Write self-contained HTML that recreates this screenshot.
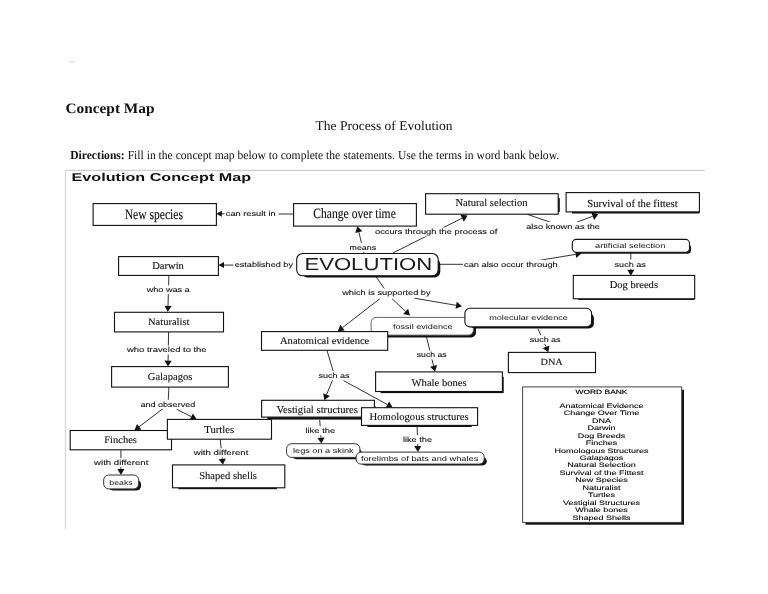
<!DOCTYPE html>
<html><head><meta charset="utf-8"><style>
html,body{margin:0;padding:0;background:#fff;width:768px;height:594px;overflow:hidden}
svg{display:block;text-rendering:geometricPrecision;will-change:transform}
</style></head><body>
<svg width="768" height="594" viewBox="0 0 768 594">
<rect x="69.5" y="61" width="5" height="1.2" fill="#ddd"/>
<text x="65.5" y="112.8" font-family="Liberation Serif" font-size="14.5" font-weight="bold" fill="#111" textLength="89.0" lengthAdjust="spacingAndGlyphs">Concept Map</text>
<text x="315.5" y="129.6" font-family="Liberation Serif" font-size="13.3" font-weight="normal" fill="#111" textLength="137.0" lengthAdjust="spacingAndGlyphs">The Process of Evolution</text>
<text x="70.2" y="158.6" font-family="Liberation Serif" font-size="12.2" fill="#111" textLength="489" lengthAdjust="spacingAndGlyphs"><tspan font-weight="bold">Directions:</tspan> Fill in the concept map below to complete the statements. Use the terms in word bank below.</text>
<rect x="65" y="169.8" width="640" height="1.2" fill="#cdcdcd"/>
<rect x="64.8" y="169.8" width="1.2" height="359" fill="#d8d8d8"/>
<rect x="70" y="174" width="0.8" height="354" fill="#f6f6f6"/>
<rect x="70" y="174" width="634" height="0.8" fill="#f7f7f7"/>
<text x="71.5" y="181.2" font-family="Liberation Sans" font-size="11.4" font-weight="bold" fill="#111" textLength="179.7" lengthAdjust="spacingAndGlyphs">Evolution Concept Map</text>
<line x1="220.0" y1="213.9" x2="224.5" y2="213.9" stroke="#333" stroke-width="1.0"/>
<line x1="278.6" y1="214.0" x2="293.5" y2="214.0" stroke="#333" stroke-width="1.0"/>
<polygon points="216.3,213.8 221.8,210.8 221.8,216.8" fill="#111"/>
<line x1="222.0" y1="265.1" x2="233.5" y2="265.1" stroke="#333" stroke-width="1.0"/>
<polygon points="218.5,265.1 224.0,262.1 224.0,268.1" fill="#111"/>
<line x1="364.0" y1="253.0" x2="358.8" y2="232.1" stroke="#333" stroke-width="1.0"/>
<polygon points="357.3,226.3 362.3,231.2 355.3,233.0" fill="#111"/>
<line x1="392.9" y1="253.0" x2="462.1" y2="218.2" stroke="#333" stroke-width="1.0"/>
<polygon points="467.5,215.5 463.9,221.8 460.3,214.6" fill="#111"/>
<line x1="440.0" y1="264.3" x2="463.0" y2="264.3" stroke="#333" stroke-width="1.0"/>
<line x1="539.0" y1="260.4" x2="575.6" y2="254.4" stroke="#333" stroke-width="1.0"/>
<polygon points="581.5,253.4 576.2,257.9 575.0,250.8" fill="#111"/>
<line x1="527.0" y1="214.2" x2="551.0" y2="222.5" stroke="#333" stroke-width="1.0"/>
<line x1="576.5" y1="222.3" x2="592.7" y2="216.3" stroke="#333" stroke-width="1.0"/>
<polygon points="598.3,214.2 594.1,220.0 591.3,212.5" fill="#111"/>
<line x1="630.8" y1="252.4" x2="630.8" y2="269.8" stroke="#333" stroke-width="1.0"/>
<polygon points="630.8,275.8 627.2,269.8 634.4,269.8" fill="#111"/>
<line x1="168.9" y1="275.5" x2="168.0" y2="305.8" stroke="#333" stroke-width="1.0"/>
<polygon points="167.8,311.8 164.4,305.7 171.6,305.9" fill="#111"/>
<line x1="168.6" y1="332.0" x2="168.1" y2="360.6" stroke="#333" stroke-width="1.0"/>
<polygon points="168.0,366.6 164.5,360.5 171.7,360.7" fill="#111"/>
<line x1="375.5" y1="276.0" x2="385.0" y2="289.5" stroke="#333" stroke-width="1.0"/>
<line x1="379.8" y1="298.8" x2="342.6" y2="327.5" stroke="#333" stroke-width="1.0"/>
<polygon points="337.8,331.2 340.4,324.7 344.7,330.4" fill="#111"/>
<line x1="392.1" y1="298.8" x2="405.6" y2="311.4" stroke="#333" stroke-width="1.0"/>
<polygon points="410.0,315.5 403.2,314.0 408.1,308.8" fill="#111"/>
<line x1="414.4" y1="298.2" x2="456.1" y2="305.3" stroke="#333" stroke-width="1.0"/>
<polygon points="462.0,306.3 455.5,308.8 456.7,301.7" fill="#111"/>
<line x1="538.0" y1="328.9" x2="546.0" y2="346.8" stroke="#333" stroke-width="1.0"/>
<polygon points="548.4,352.3 542.7,348.3 549.3,345.4" fill="#111"/>
<line x1="426.5" y1="337.0" x2="433.6" y2="366.0" stroke="#333" stroke-width="1.0"/>
<polygon points="435.0,371.8 430.1,366.8 437.1,365.1" fill="#111"/>
<line x1="327.0" y1="350.5" x2="333.6" y2="372.5" stroke="#333" stroke-width="1.0"/>
<line x1="332.5" y1="380.2" x2="326.6" y2="394.6" stroke="#333" stroke-width="1.0"/>
<polygon points="324.3,400.2 323.2,393.3 329.9,396.0" fill="#111"/>
<line x1="343.4" y1="380.5" x2="387.3" y2="404.5" stroke="#333" stroke-width="1.0"/>
<polygon points="392.6,407.4 385.6,407.7 389.1,401.4" fill="#111"/>
<line x1="168.9" y1="387.0" x2="168.2" y2="401.0" stroke="#333" stroke-width="1.0"/>
<line x1="163.2" y1="408.4" x2="139.2" y2="426.8" stroke="#333" stroke-width="1.0"/>
<polygon points="134.4,430.4 137.0,423.9 141.4,429.6" fill="#111"/>
<line x1="176.7" y1="409.3" x2="191.3" y2="416.6" stroke="#333" stroke-width="1.0"/>
<polygon points="196.7,419.3 189.7,419.8 192.9,413.4" fill="#111"/>
<line x1="120.9" y1="449.9" x2="120.9" y2="468.9" stroke="#333" stroke-width="1.0"/>
<polygon points="120.9,474.9 117.3,468.9 124.5,468.9" fill="#111"/>
<line x1="220.2" y1="439.3" x2="222.3" y2="458.8" stroke="#333" stroke-width="1.0"/>
<polygon points="222.9,464.8 218.7,459.2 225.8,458.5" fill="#111"/>
<line x1="319.7" y1="419.8" x2="321.0" y2="437.6" stroke="#333" stroke-width="1.0"/>
<polygon points="321.4,443.6 317.4,437.9 324.6,437.4" fill="#111"/>
<line x1="417.1" y1="425.5" x2="417.7" y2="446.0" stroke="#333" stroke-width="1.0"/>
<polygon points="417.9,452.0 414.1,446.1 421.3,445.9" fill="#111"/>
<rect x="225.0" y="209.0" width="51.4" height="9" fill="#fff"/>
<text x="225.8" y="215.9" font-family="Liberation Sans" font-size="7.1" fill="#111" stroke="#111" stroke-width="0.1" textLength="49.8" lengthAdjust="spacingAndGlyphs">can result in</text>
<rect x="233.9" y="260.1" width="59.9" height="9" fill="#fff"/>
<text x="234.7" y="267.0" font-family="Liberation Sans" font-size="7.1" fill="#111" stroke="#111" stroke-width="0.1" textLength="58.3" lengthAdjust="spacingAndGlyphs">established by</text>
<rect x="348.7" y="242.8" width="28.2" height="9" fill="#fff"/>
<text x="349.5" y="249.7" font-family="Liberation Sans" font-size="7.1" fill="#111" stroke="#111" stroke-width="0.1" textLength="26.6" lengthAdjust="spacingAndGlyphs">means</text>
<rect x="374.2" y="227.4" width="123.9" height="9" fill="#fff"/>
<text x="375.0" y="234.3" font-family="Liberation Sans" font-size="7.1" fill="#111" stroke="#111" stroke-width="0.1" textLength="122.3" lengthAdjust="spacingAndGlyphs">occurs through the process of</text>
<rect x="525.4" y="221.9" width="75.4" height="9" fill="#fff"/>
<text x="526.2" y="228.8" font-family="Liberation Sans" font-size="7.1" fill="#111" stroke="#111" stroke-width="0.1" textLength="73.8" lengthAdjust="spacingAndGlyphs">also known as the</text>
<rect x="463.2" y="259.9" width="95.3" height="9" fill="#fff"/>
<text x="464.0" y="266.8" font-family="Liberation Sans" font-size="7.1" fill="#111" stroke="#111" stroke-width="0.1" textLength="93.7" lengthAdjust="spacingAndGlyphs">can also occur through</text>
<rect x="613.8" y="259.6" width="32.8" height="9" fill="#fff"/>
<text x="614.6" y="266.5" font-family="Liberation Sans" font-size="7.1" fill="#111" stroke="#111" stroke-width="0.1" textLength="31.2" lengthAdjust="spacingAndGlyphs">such as</text>
<rect x="145.9" y="285.3" width="44.6" height="9" fill="#fff"/>
<text x="146.7" y="292.2" font-family="Liberation Sans" font-size="7.1" fill="#111" stroke="#111" stroke-width="0.1" textLength="43.0" lengthAdjust="spacingAndGlyphs">who was a</text>
<rect x="341.4" y="288.4" width="90.0" height="9" fill="#fff"/>
<text x="342.2" y="295.3" font-family="Liberation Sans" font-size="7.1" fill="#111" stroke="#111" stroke-width="0.1" textLength="88.4" lengthAdjust="spacingAndGlyphs">which is supported by</text>
<rect x="529.0" y="335.0" width="32.3" height="9" fill="#fff"/>
<text x="529.8" y="341.9" font-family="Liberation Sans" font-size="7.1" fill="#111" stroke="#111" stroke-width="0.1" textLength="30.7" lengthAdjust="spacingAndGlyphs">such as</text>
<rect x="415.9" y="350.5" width="31.6" height="9" fill="#fff"/>
<text x="416.7" y="357.4" font-family="Liberation Sans" font-size="7.1" fill="#111" stroke="#111" stroke-width="0.1" textLength="30.0" lengthAdjust="spacingAndGlyphs">such as</text>
<rect x="126.2" y="345.5" width="81.2" height="9" fill="#fff"/>
<text x="127.0" y="352.4" font-family="Liberation Sans" font-size="7.1" fill="#111" stroke="#111" stroke-width="0.1" textLength="79.6" lengthAdjust="spacingAndGlyphs">who traveled to the</text>
<rect x="317.6" y="371.1" width="32.6" height="9" fill="#fff"/>
<text x="318.4" y="378.0" font-family="Liberation Sans" font-size="7.1" fill="#111" stroke="#111" stroke-width="0.1" textLength="31.0" lengthAdjust="spacingAndGlyphs">such as</text>
<rect x="139.7" y="399.8" width="56.3" height="9" fill="#fff"/>
<text x="140.5" y="406.7" font-family="Liberation Sans" font-size="7.1" fill="#111" stroke="#111" stroke-width="0.1" textLength="54.7" lengthAdjust="spacingAndGlyphs">and observed</text>
<rect x="304.6" y="426.3" width="31.5" height="9" fill="#fff"/>
<text x="305.4" y="433.2" font-family="Liberation Sans" font-size="7.1" fill="#111" stroke="#111" stroke-width="0.1" textLength="29.9" lengthAdjust="spacingAndGlyphs">like the</text>
<rect x="402.1" y="435.1" width="30.8" height="9" fill="#fff"/>
<text x="402.9" y="442.0" font-family="Liberation Sans" font-size="7.1" fill="#111" stroke="#111" stroke-width="0.1" textLength="29.2" lengthAdjust="spacingAndGlyphs">like the</text>
<rect x="192.9" y="448.3" width="56.3" height="9" fill="#fff"/>
<text x="193.7" y="455.2" font-family="Liberation Sans" font-size="7.1" fill="#111" stroke="#111" stroke-width="0.1" textLength="54.7" lengthAdjust="spacingAndGlyphs">with different</text>
<rect x="93.3" y="458.0" width="55.9" height="9" fill="#fff"/>
<text x="94.1" y="464.9" font-family="Liberation Sans" font-size="7.1" fill="#111" stroke="#111" stroke-width="0.1" textLength="54.3" lengthAdjust="spacingAndGlyphs">with different</text>
<rect x="93.10" y="203.60" width="123.30" height="21.80" rx="0" fill="#fff" stroke="#111" stroke-width="1.1"/>
<text x="124.7" y="218.5" font-family="Liberation Serif" font-size="14.58" font-weight="normal" fill="#111" stroke="#111" stroke-width="0.12" textLength="58.3" lengthAdjust="spacingAndGlyphs">New species</text>
<rect x="293.60" y="203.60" width="122.80" height="22.50" rx="0" fill="#fff" stroke="#111" stroke-width="1.1"/>
<text x="313.3" y="217.9" font-family="Liberation Serif" font-size="14.26" font-weight="normal" fill="#111" stroke="#111" stroke-width="0.12" textLength="82.5" lengthAdjust="spacingAndGlyphs">Change over time</text>
<rect x="551.50" y="198.10" width="8.30" height="13.80" rx="0" fill="#111"/>
<rect x="425.60" y="193.70" width="132.60" height="20.50" rx="0" fill="#fff" stroke="#111" stroke-width="1.1"/>
<text x="455.4" y="206.4" font-family="Liberation Serif" font-size="10.56" font-weight="normal" fill="#111" stroke="#111" stroke-width="0.12" textLength="72.1" lengthAdjust="spacingAndGlyphs">Natural selection</text>
<rect x="572.00" y="198.50" width="127.50" height="15.00" rx="0" fill="#111"/>
<rect x="566.10" y="192.60" width="133.30" height="19.30" rx="0" fill="#fff" stroke="#111" stroke-width="1.1"/>
<text x="587.2" y="206.5" font-family="Liberation Serif" font-size="10.75" font-weight="normal" fill="#111" stroke="#111" stroke-width="0.12" textLength="90.5" lengthAdjust="spacingAndGlyphs">Survival of the fittest</text>
<rect x="118.60" y="256.60" width="99.80" height="18.80" rx="0" fill="#fff" stroke="#111" stroke-width="1.1"/>
<text x="152.2" y="269.1" font-family="Liberation Serif" font-size="10.18" font-weight="normal" fill="#111" stroke="#111" stroke-width="0.12" textLength="31.7" lengthAdjust="spacingAndGlyphs">Darwin</text>
<rect x="578.20" y="280.30" width="116.10" height="19.60" rx="0" fill="#111"/>
<rect x="573.30" y="275.40" width="121.40" height="23.40" rx="0" fill="#fff" stroke="#111" stroke-width="1.1"/>
<text x="609.7" y="288.3" font-family="Liberation Serif" font-size="10.18" font-weight="normal" fill="#111" stroke="#111" stroke-width="0.12" textLength="48.3" lengthAdjust="spacingAndGlyphs">Dog breeds</text>
<rect x="114.50" y="312.30" width="109.00" height="19.60" rx="0" fill="#fff" stroke="#111" stroke-width="1.1"/>
<text x="148.0" y="324.7" font-family="Liberation Serif" font-size="9.98" font-weight="normal" fill="#111" stroke="#111" stroke-width="0.12" textLength="41.4" lengthAdjust="spacingAndGlyphs">Naturalist</text>
<rect x="508.40" y="352.40" width="87.10" height="20.20" rx="0" fill="#fff" stroke="#111" stroke-width="1.1"/>
<text x="540.5" y="365.4" font-family="Liberation Serif" font-size="9.6" font-weight="normal" fill="#111" stroke="#111" stroke-width="0.12" textLength="22.3" lengthAdjust="spacingAndGlyphs">DNA</text>
<rect x="111.60" y="366.60" width="116.80" height="20.50" rx="0" fill="#fff" stroke="#111" stroke-width="1.1"/>
<text x="147.8" y="379.7" font-family="Liberation Serif" font-size="10.56" font-weight="normal" fill="#111" stroke="#111" stroke-width="0.12" textLength="44.6" lengthAdjust="spacingAndGlyphs">Galapagos</text>
<rect x="380.50" y="376.80" width="123.20" height="16.30" rx="0" fill="#111"/>
<rect x="375.60" y="371.90" width="126.80" height="19.60" rx="0" fill="#fff" stroke="#111" stroke-width="1.1"/>
<text x="411.6" y="385.5" font-family="Liberation Serif" font-size="10.18" font-weight="normal" fill="#111" stroke="#111" stroke-width="0.12" textLength="55.1" lengthAdjust="spacingAndGlyphs">Whale bones</text>
<rect x="376.00" y="322.30" width="100.00" height="15.10" rx="5" fill="#111"/>
<rect x="371.10" y="317.40" width="102.30" height="17.70" rx="5" fill="#fff" stroke="#666" stroke-width="1.0"/>
<text x="392.9" y="328.5" font-family="Liberation Sans" font-size="7.0" fill="#111" textLength="59.8" lengthAdjust="spacingAndGlyphs">fossil evidence</text>
<rect x="261.50" y="331.60" width="126.20" height="18.70" rx="0" fill="#fff" stroke="#111" stroke-width="1.1"/>
<text x="280.0" y="344.2" font-family="Liberation Serif" font-size="10.18" font-weight="normal" fill="#111" stroke="#111" stroke-width="0.12" textLength="89.3" lengthAdjust="spacingAndGlyphs">Anatomical evidence</text>
<rect x="469.80" y="313.20" width="124.10" height="15.30" rx="5" fill="#111"/>
<rect x="464.90" y="308.30" width="126.70" height="18.60" rx="5" fill="#fff" stroke="#111" stroke-width="1.1"/>
<text x="489.2" y="320.0" font-family="Liberation Sans" font-size="7.0" fill="#111" textLength="78.7" lengthAdjust="spacingAndGlyphs">molecular evidence</text>
<rect x="301.60" y="258.40" width="138.70" height="19.10" rx="6" fill="#111"/>
<rect x="296.70" y="253.50" width="141.50" height="22.30" rx="6" fill="#fff" stroke="#111" stroke-width="1.1"/>
<text x="304.4" y="270.0" font-family="Liberation Sans" font-size="17.3" font-weight="normal" fill="#1a1a1a" textLength="127.9" lengthAdjust="spacingAndGlyphs">EVOLUTION</text>
<rect x="577.20" y="244.30" width="113.90" height="9.50" rx="4" fill="#111"/>
<rect x="572.30" y="239.40" width="117.20" height="12.80" rx="4" fill="#fff" stroke="#111" stroke-width="1.1"/>
<text x="595.0" y="247.6" font-family="Liberation Sans" font-size="7.0" fill="#111" textLength="70.4" lengthAdjust="spacingAndGlyphs">artificial selection</text>
<rect x="70.20" y="430.50" width="101.30" height="19.30" rx="0" fill="#fff" stroke="#111" stroke-width="1.1"/>
<text x="104.3" y="443.1" font-family="Liberation Serif" font-size="9.98" font-weight="normal" fill="#111" stroke="#111" stroke-width="0.12" textLength="32.6" lengthAdjust="spacingAndGlyphs">Finches</text>
<rect x="167.40" y="419.40" width="104.10" height="19.80" rx="0" fill="#fff" stroke="#111" stroke-width="1.1"/>
<text x="204.3" y="433.3" font-family="Liberation Serif" font-size="10.56" font-weight="normal" fill="#111" stroke="#111" stroke-width="0.12" textLength="29.9" lengthAdjust="spacingAndGlyphs">Turtles</text>
<rect x="178.40" y="470.80" width="98.50" height="18.40" rx="0" fill="#111"/>
<rect x="172.50" y="464.90" width="112.30" height="22.90" rx="0" fill="#fff" stroke="#111" stroke-width="1.1"/>
<text x="199.2" y="478.8" font-family="Liberation Serif" font-size="10.56" font-weight="normal" fill="#111" stroke="#111" stroke-width="0.12" textLength="57.8" lengthAdjust="spacingAndGlyphs">Shaped shells</text>
<rect x="267.50" y="406.20" width="108.00" height="13.40" rx="0" fill="#111"/>
<rect x="261.60" y="400.30" width="112.80" height="16.80" rx="0" fill="#fff" stroke="#111" stroke-width="1.1"/>
<text x="276.5" y="413.0" font-family="Liberation Serif" font-size="10.56" font-weight="normal" fill="#111" stroke="#111" stroke-width="0.12" textLength="81.5" lengthAdjust="spacingAndGlyphs">Vestigial structures</text>
<rect x="367.40" y="413.60" width="104.30" height="13.40" rx="0" fill="#111"/>
<rect x="361.50" y="407.70" width="116.10" height="17.70" rx="0" fill="#fff" stroke="#111" stroke-width="1.1"/>
<text x="369.6" y="420.0" font-family="Liberation Serif" font-size="10.37" font-weight="normal" fill="#111" stroke="#111" stroke-width="0.12" textLength="99.1" lengthAdjust="spacingAndGlyphs">Homologous structures</text>
<rect x="108.60" y="479.90" width="32.50" height="10.70" rx="5" fill="#111"/>
<rect x="103.70" y="475.00" width="35.00" height="13.90" rx="5" fill="#fff" stroke="#333" stroke-width="1.0"/>
<text x="109.3" y="484.8" font-family="Liberation Sans" font-size="7.0" fill="#111" textLength="23.4" lengthAdjust="spacingAndGlyphs">beaks</text>
<rect x="291.50" y="448.60" width="70.50" height="10.60" rx="5" fill="#111"/>
<rect x="286.60" y="443.70" width="73.30" height="13.70" rx="5" fill="#fff" stroke="#333" stroke-width="1.0"/>
<text x="293.0" y="452.8" font-family="Liberation Sans" font-size="7.0" fill="#111" textLength="60.6" lengthAdjust="spacingAndGlyphs">legs on a skink</text>
<rect x="361.00" y="457.00" width="125.80" height="8.60" rx="5" fill="#111"/>
<rect x="356.10" y="452.10" width="128.10" height="12.00" rx="5" fill="#fff" stroke="#333" stroke-width="1.0"/>
<text x="360.9" y="460.8" font-family="Liberation Sans" font-size="7.0" fill="#111" textLength="117.5" lengthAdjust="spacingAndGlyphs">forelimbs of bats and whales</text>
<rect x="525.50" y="389.80" width="158.50" height="134.90" rx="0" fill="#111"/>
<rect x="522.60" y="386.90" width="159.10" height="135.50" rx="0" fill="#fff" stroke="#444" stroke-width="1.0"/>
<text transform="translate(601.5,393.5) scale(1.38,1)" x="0" y="0" font-family="Liberation Sans" font-size="6.1" fill="#000" stroke="#000" stroke-width="0.15" text-anchor="middle">WORD BANK</text>
<text transform="translate(601.5,407.90) scale(1.41,1)" x="0" y="0" font-family="Liberation Sans" font-size="6.4" fill="#000" stroke="#000" stroke-width="0.08" text-anchor="middle">Anatomical Evidence</text>
<text transform="translate(601.5,415.35) scale(1.41,1)" x="0" y="0" font-family="Liberation Sans" font-size="6.4" fill="#000" stroke="#000" stroke-width="0.08" text-anchor="middle">Change Over Time</text>
<text transform="translate(601.5,422.79) scale(1.41,1)" x="0" y="0" font-family="Liberation Sans" font-size="6.4" fill="#000" stroke="#000" stroke-width="0.08" text-anchor="middle">DNA</text>
<text transform="translate(601.5,430.24) scale(1.41,1)" x="0" y="0" font-family="Liberation Sans" font-size="6.4" fill="#000" stroke="#000" stroke-width="0.08" text-anchor="middle">Darwin</text>
<text transform="translate(601.5,437.69) scale(1.41,1)" x="0" y="0" font-family="Liberation Sans" font-size="6.4" fill="#000" stroke="#000" stroke-width="0.08" text-anchor="middle">Dog Breeds</text>
<text transform="translate(601.5,445.13) scale(1.41,1)" x="0" y="0" font-family="Liberation Sans" font-size="6.4" fill="#000" stroke="#000" stroke-width="0.08" text-anchor="middle">Finches</text>
<text transform="translate(601.5,452.58) scale(1.41,1)" x="0" y="0" font-family="Liberation Sans" font-size="6.4" fill="#000" stroke="#000" stroke-width="0.08" text-anchor="middle">Homologous Structures</text>
<text transform="translate(601.5,460.03) scale(1.41,1)" x="0" y="0" font-family="Liberation Sans" font-size="6.4" fill="#000" stroke="#000" stroke-width="0.08" text-anchor="middle">Galapagos</text>
<text transform="translate(601.5,467.48) scale(1.41,1)" x="0" y="0" font-family="Liberation Sans" font-size="6.4" fill="#000" stroke="#000" stroke-width="0.08" text-anchor="middle">Natural Selection</text>
<text transform="translate(601.5,474.92) scale(1.41,1)" x="0" y="0" font-family="Liberation Sans" font-size="6.4" fill="#000" stroke="#000" stroke-width="0.08" text-anchor="middle">Survival of the Fittest</text>
<text transform="translate(601.5,482.37) scale(1.41,1)" x="0" y="0" font-family="Liberation Sans" font-size="6.4" fill="#000" stroke="#000" stroke-width="0.08" text-anchor="middle">New Species</text>
<text transform="translate(601.5,489.82) scale(1.41,1)" x="0" y="0" font-family="Liberation Sans" font-size="6.4" fill="#000" stroke="#000" stroke-width="0.08" text-anchor="middle">Naturalist</text>
<text transform="translate(601.5,497.26) scale(1.41,1)" x="0" y="0" font-family="Liberation Sans" font-size="6.4" fill="#000" stroke="#000" stroke-width="0.08" text-anchor="middle">Turtles</text>
<text transform="translate(601.5,504.71) scale(1.41,1)" x="0" y="0" font-family="Liberation Sans" font-size="6.4" fill="#000" stroke="#000" stroke-width="0.08" text-anchor="middle">Vestigial Structures</text>
<text transform="translate(601.5,512.16) scale(1.41,1)" x="0" y="0" font-family="Liberation Sans" font-size="6.4" fill="#000" stroke="#000" stroke-width="0.08" text-anchor="middle">Whale bones</text>
<text transform="translate(601.5,519.61) scale(1.41,1)" x="0" y="0" font-family="Liberation Sans" font-size="6.4" fill="#000" stroke="#000" stroke-width="0.08" text-anchor="middle">Shaped Shells</text>
</svg>
</body></html>
